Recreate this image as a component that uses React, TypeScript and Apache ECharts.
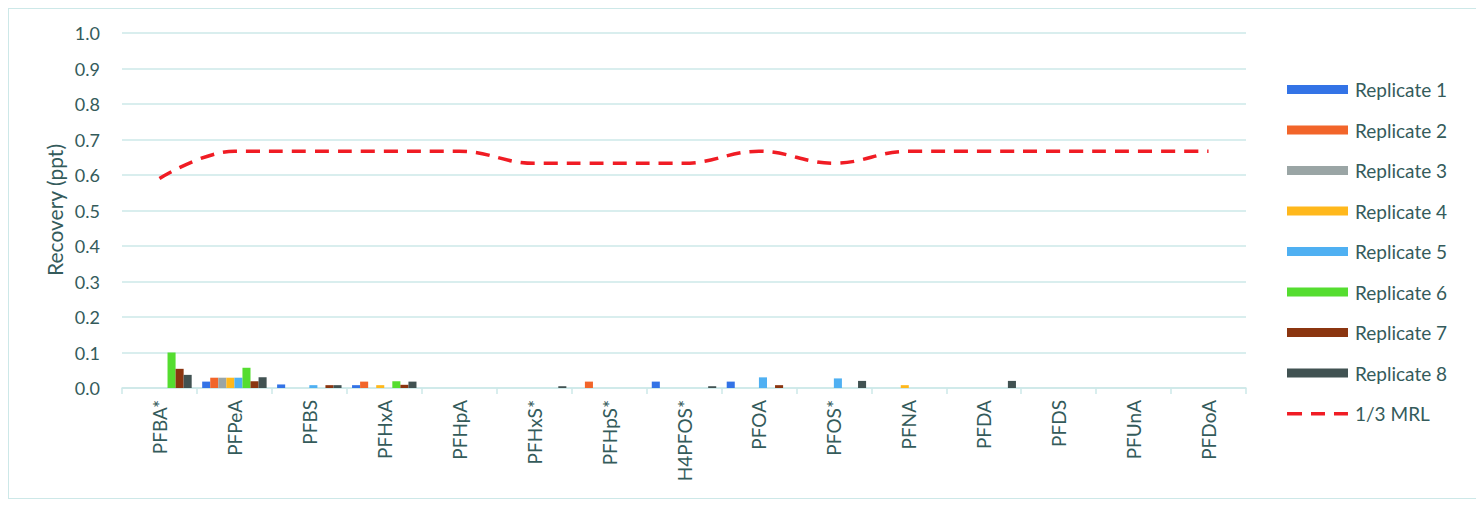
import { useEffect, useRef } from 'react';
import * as echarts from 'echarts';

// ─── Data ─────────────────────────────────────────────────────────────────────

const categories = [
  'PFBA*', 'PFPeA', 'PFBS', 'PFHxA', 'PFHpA', 'PFHxS*', 'PFHpS*', 'H4PFOS*',
  'PFOA', 'PFOS*', 'PFNA', 'PFDA', 'PFDS', 'PFUnA', 'PFDoA',
];

const replicate1 = [0, 0.018, 0.01, 0.008, 0, 0, 0, 0.018, 0.018, 0, 0, 0, 0, 0, 0];
const replicate2 = [0, 0.029, 0, 0.018, 0, 0, 0.018, 0, 0, 0, 0, 0, 0, 0, 0];
const replicate3 = [0, 0.029, 0, 0, 0, 0, 0, 0, 0, 0, 0, 0, 0, 0, 0];
const replicate4 = [0, 0.029, 0, 0.008, 0, 0, 0, 0, 0, 0, 0.008, 0, 0, 0, 0];
const replicate5 = [0, 0.029, 0.008, 0, 0, 0, 0, 0, 0.03, 0.027, 0, 0, 0, 0, 0];
const replicate6 = [0.1, 0.057, 0, 0.019, 0, 0, 0, 0, 0, 0, 0, 0, 0, 0, 0];
const replicate7 = [0.054, 0.019, 0.008, 0.009, 0, 0, 0, 0, 0.008, 0, 0, 0, 0, 0, 0];
const replicate8 = [0.037, 0.03, 0.008, 0.018, 0, 0.005, 0, 0.005, 0, 0.02, 0, 0.02, 0, 0, 0];

const mrlThird = [
  0.59, 0.667, 0.667, 0.667, 0.667, 0.633, 0.633, 0.633,
  0.667, 0.633, 0.667, 0.667, 0.667, 0.667, 0.667,
];

const replicateNames = [
  'Replicate 1', 'Replicate 2', 'Replicate 3', 'Replicate 4',
  'Replicate 5', 'Replicate 6', 'Replicate 7', 'Replicate 8',
];
const replicateData = [
  replicate1, replicate2, replicate3, replicate4,
  replicate5, replicate6, replicate7, replicate8,
];
const replicateColors = [
  '#3373e6', '#f2652a', '#9aa5a5', '#ffb81c',
  '#4fb0f2', '#55dd30', '#8b3510', '#415252',
];

// ─── Styles ───────────────────────────────────────────────────────────────────

const TEXT = '#345b5b';
const GRID = '#cde8e8';
const RED = '#f01c24';
const FONT = 'Lato, "Open Sans", sans-serif';

// three dashes, with two specks that stretch the box to the icon's full height
const DASH_ICON =
  'path://M0,3h15v3.5h-15z M24,3h14v3.5h-14z M47,3h14v3.5h-14z M0,0h0.01v0.01h-0.01z M0,9h0.01v0.01h-0.01z';

function buildOption(): echarts.EChartsOption {
  const bars = replicateNames.map((name, i) => ({
    name,
    type: 'bar' as const,
    data: replicateData[i],
    barGap: '0%',
    barCategoryGap: '14%',
    itemStyle: { color: replicateColors[i] },
  }));

  return {
    animation: false,
    backgroundColor: '#ffffff',
    textStyle: { fontFamily: FONT },
    grid: { left: 113, right: 230, top: 24, bottom: 110 },
    // y-axis title (axis name ignored the font size, so it is placed by hand)
    graphic: [
      {
        type: 'text',
        x: 45,
        y: 201,
        rotation: Math.PI / 2,
        style: {
          text: 'Recovery (ppt)',
          fontSize: 21,
          fontFamily: FONT,
          fill: TEXT,
          align: 'center',
          verticalAlign: 'middle',
        },
      },
    ],
    legend: {
      orient: 'vertical',
      left: 1278,
      top: 71,
      padding: 0,
      itemWidth: 61,
      itemHeight: 9,
      itemGap: 21.5,
      textStyle: { color: TEXT, fontSize: 19, fontFamily: FONT, padding: [0, 0, 0, 2] },
      data: [
        ...replicateNames.map((name) => ({ name, icon: 'rect' })),
        { name: '1/3 MRL', icon: DASH_ICON, itemStyle: { color: RED } },
      ],
    },
    xAxis: {
      type: 'category',
      data: categories,
      boundaryGap: true,
      axisLine: { lineStyle: { color: GRID, width: 1.5 } },
      axisTick: { show: true, length: 6, lineStyle: { color: GRID, width: 1.5 } },
      axisLabel: {
        rotate: 90,
        color: TEXT,
        fontSize: 19,
        margin: 12,
        interval: 0,
      },
    },
    yAxis: {
      type: 'value',
      min: 0,
      max: 1,
      interval: 0.1,
      axisLine: { show: false },
      axisTick: { show: false },
      axisLabel: {
        color: TEXT,
        fontSize: 18,
        margin: 22,
        formatter: (v: number) => v.toFixed(1),
      },
      splitLine: { lineStyle: { color: GRID, width: 1.5 } },
    },
    series: [
      ...bars,
      {
        name: '1/3 MRL',
        type: 'line',
        data: mrlThird,
        smooth: 0.4,
        symbol: 'none',
        z: 5,
        itemStyle: { color: RED },
        lineStyle: { color: RED, width: 3.5, type: [14, 9] },
      },
    ],
  };
}

export default function App() {
  const ref = useRef<HTMLDivElement>(null);

  useEffect(() => {
    if (!ref.current) return;
    const chart = echarts.init(ref.current, null, { renderer: 'svg' });
    chart.setOption(buildOption());
    return () => chart.dispose();
  }, []);

  return (
    <div
      style={{
        width: 1469,
        height: 491,
        border: `1px solid ${GRID}`,
        boxSizing: 'border-box',
        background: '#fff',
      }}
    >
      <div ref={ref} style={{ width: 1467, height: 489 }} />
    </div>
  );
}
